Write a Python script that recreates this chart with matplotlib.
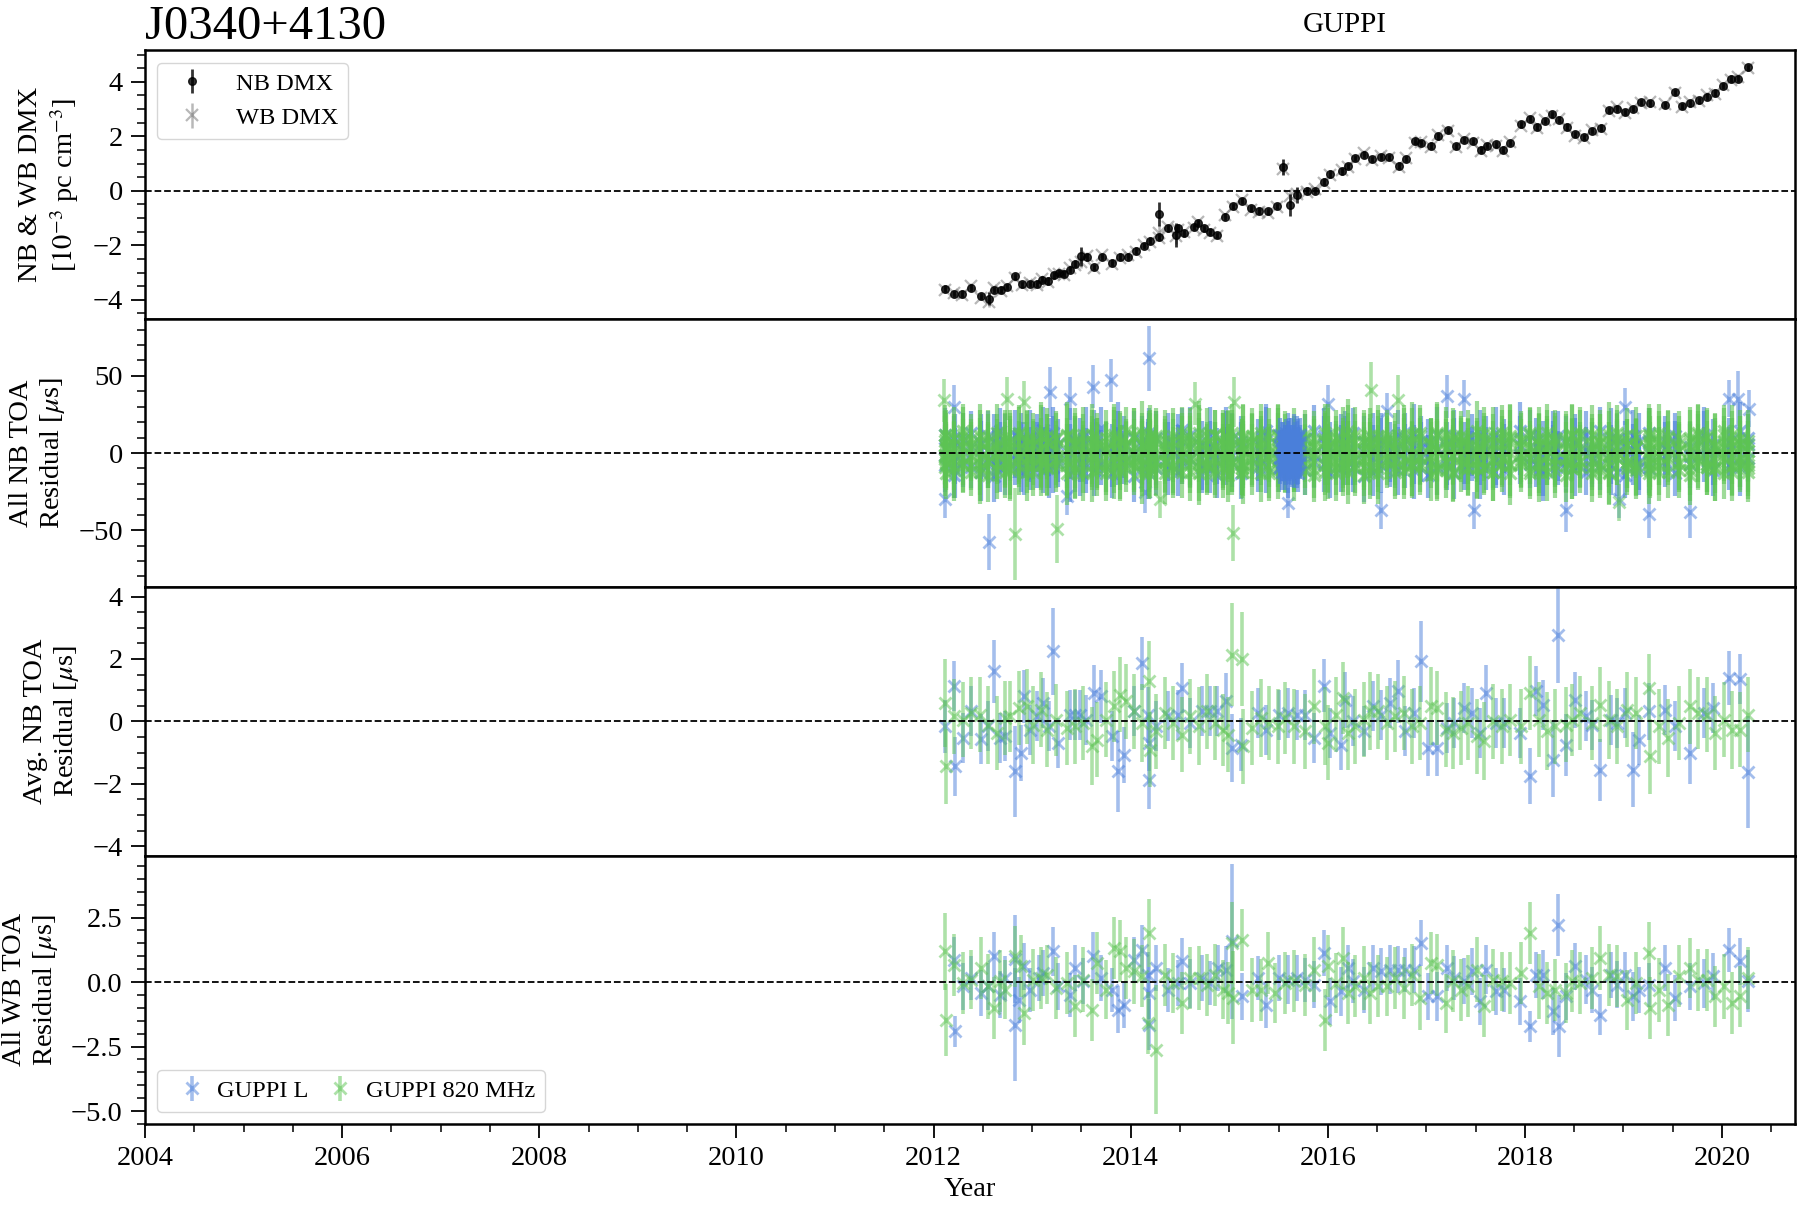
import matplotlib
matplotlib.use("Agg")
import matplotlib.pyplot as plt
from matplotlib.ticker import MultipleLocator
import numpy as np

plt.rcParams.update({
    "font.family": ["Liberation Serif", "DejaVu Serif"],
    "mathtext.fontset": "stix",
    "font.size": 20.5,
    "axes.linewidth": 1.8,
    "xtick.direction": "out",
    "ytick.direction": "out",
    "xtick.major.size": 10, "ytick.major.size": 10,
    "xtick.minor.size": 5.5, "ytick.minor.size": 5.5,
    "xtick.major.width": 1.3, "ytick.major.width": 1.3,
    "xtick.minor.width": 1.1, "ytick.minor.width": 1.1,
    "xtick.labelsize": 20.5, "ytick.labelsize": 20.5,
    "legend.fontsize": 17.6,
})

PSR = "J0340+4130"
BACKEND = "GUPPI"
L_LABEL = "GUPPI L"
G_LABEL = "GUPPI 820 MHz"
L_COLOR = "#4A7FDB"
G_COLOR = "#5DC453"

# ---------------- DMX (top panel) ----------------
dmx_year = [2012.12, 2012.21, 2012.29, 2012.38, 2012.48, 2012.56, 2012.61, 2012.68, 2012.75, 2012.83,
            2012.90, 2012.98, 2013.05, 2013.10, 2013.16, 2013.22, 2013.27, 2013.32, 2013.38, 2013.44,
            2013.50, 2013.56, 2013.63, 2013.71, 2013.81, 2013.89, 2013.97, 2014.05, 2014.14, 2014.20,
            2014.29, 2014.29, 2014.38, 2014.46, 2014.48, 2014.54, 2014.64, 2014.68, 2014.74, 2014.80,
            2014.88, 2014.96, 2015.04, 2015.13, 2015.22, 2015.30, 2015.39, 2015.48, 2015.55, 2015.62,
            2015.69, 2015.79, 2015.87, 2015.96, 2016.02, 2016.14, 2016.20, 2016.28, 2016.37, 2016.45,
            2016.54, 2016.62, 2016.72, 2016.79, 2016.88, 2016.95, 2017.05, 2017.12, 2017.22, 2017.30,
            2017.38, 2017.47, 2017.55, 2017.62, 2017.71, 2017.78, 2017.85, 2017.96, 2018.05, 2018.12,
            2018.20, 2018.27, 2018.35, 2018.43, 2018.51, 2018.60, 2018.68, 2018.77, 2018.85, 2018.93,
            2019.02, 2019.10, 2019.18, 2019.27, 2019.42, 2019.52, 2019.59, 2019.68, 2019.77, 2019.85,
            2019.93, 2020.01, 2020.09, 2020.16, 2020.26]
nb_dmx = [-3.59, -3.78, -3.78, -3.55, -3.87, -3.96, -3.63, -3.63, -3.53, -3.14,
          -3.43, -3.43, -3.41, -3.26, -3.31, -3.10, -3.00, -3.04, -2.89, -2.67,
          -2.40, -2.42, -2.79, -2.42, -2.64, -2.42, -2.42, -2.20, -2.03, -1.83,
          -1.69, -0.85, -1.38, -1.62, -1.38, -1.56, -1.32, -1.19, -1.38, -1.50,
          -1.62, -0.95, -0.55, -0.37, -0.64, -0.73, -0.76, -0.55, 0.87, -0.52,
          -0.15, 0.01, 0.00, 0.34, 0.63, 0.71, 0.92, 1.21, 1.33, 1.17,
          1.24, 1.24, 0.92, 1.17, 1.82, 1.76, 1.66, 2.00, 2.23, 1.64,
          1.86, 1.82, 1.51, 1.64, 1.70, 1.51, 1.76, 2.44, 2.64, 2.35,
          2.56, 2.80, 2.60, 2.35, 2.07, 1.98, 2.19, 2.31, 2.96, 3.01,
          2.89, 2.99, 3.26, 3.21, 3.14, 3.63, 3.11, 3.21, 3.33, 3.46,
          3.60, 3.85, 4.12, 4.12, 4.53]
nb_dmx_err = [0.12, 0.11, 0.12, 0.13, 0.12, 0.25, 0.11, 0.12, 0.12, 0.13,
              0.12, 0.11, 0.12, 0.12, 0.13, 0.12, 0.11, 0.12, 0.13, 0.12,
              0.35, 0.15, 0.12, 0.11, 0.12, 0.12, 0.13, 0.12, 0.11, 0.12,
              0.12, 0.45, 0.12, 0.45, 0.15, 0.12, 0.11, 0.12, 0.13, 0.12,
              0.12, 0.12, 0.11, 0.12, 0.13, 0.12, 0.12, 0.11, 0.30, 0.40,
              0.30, 0.12, 0.11, 0.12, 0.15, 0.12, 0.11, 0.12, 0.13, 0.12,
              0.12, 0.11, 0.13, 0.12, 0.12, 0.11, 0.12, 0.13, 0.12, 0.11,
              0.12, 0.12, 0.13, 0.11, 0.12, 0.12, 0.11, 0.13, 0.12, 0.12,
              0.11, 0.12, 0.13, 0.12, 0.11, 0.12, 0.12, 0.13, 0.11, 0.12,
              0.12, 0.11, 0.12, 0.13, 0.12, 0.12, 0.11, 0.12, 0.13, 0.12,
              0.12, 0.11, 0.12, 0.12, 0.13]
wb_dmx = [-3.64, -3.74, -3.83, -3.50, -3.92, -4.08, -3.58, -3.68, -3.49, -3.20,
          -3.47, -3.38, -3.45, -3.22, -3.35, -3.05, -3.04, -3.09, -2.84, -2.72,
          -2.62, -2.38, -2.84, -2.37, -2.69, -2.47, -2.37, -2.25, -1.99, -1.88,
          -1.74, -1.55, -1.33, -1.67, -1.43, -1.51, -1.37, -1.15, -1.43, -1.55,
          -1.67, -0.90, -0.60, -0.33, -0.69, -0.78, -0.80, -0.60, 0.80, -0.20,
          -0.10, -0.04, 0.05, 0.29, 0.58, 0.75, 0.87, 1.16, 1.38, 1.12,
          1.29, 1.19, 0.87, 1.22, 1.77, 1.80, 1.61, 2.05, 2.18, 1.59,
          1.91, 1.77, 1.46, 1.69, 1.65, 1.47, 1.80, 2.39, 2.68, 2.30,
          2.61, 2.75, 2.64, 2.30, 2.02, 1.93, 2.24, 2.26, 2.91, 3.06,
          2.84, 3.03, 3.21, 3.25, 3.19, 3.58, 3.06, 3.25, 3.28, 3.51,
          3.55, 3.89, 4.07, 4.17, 4.49]
wb_dmx_err = [0.10, 0.10, 0.11, 0.10, 0.10, 0.18, 0.10, 0.10, 0.11, 0.10,
              0.10, 0.10, 0.10, 0.11, 0.10, 0.10, 0.10, 0.10, 0.11, 0.10,
              0.20, 0.12, 0.10, 0.10, 0.10, 0.11, 0.10, 0.10, 0.10, 0.10,
              0.10, 0.30, 0.10, 0.30, 0.12, 0.10, 0.10, 0.11, 0.10, 0.10,
              0.10, 0.10, 0.10, 0.11, 0.10, 0.10, 0.10, 0.10, 0.20, 0.25,
              0.20, 0.10, 0.10, 0.10, 0.12, 0.10, 0.10, 0.11, 0.10, 0.10,
              0.10, 0.10, 0.10, 0.11, 0.10, 0.10, 0.10, 0.10, 0.11, 0.10,
              0.10, 0.10, 0.10, 0.10, 0.11, 0.10, 0.10, 0.10, 0.10, 0.10,
              0.11, 0.10, 0.10, 0.10, 0.10, 0.11, 0.10, 0.10, 0.10, 0.10,
              0.10, 0.11, 0.10, 0.10, 0.10, 0.10, 0.11, 0.10, 0.10, 0.10,
              0.10, 0.10, 0.11, 0.10, 0.10]

# ---------------- Epoch-averaged NB residuals (panel 3) ----------------
L_avg_year = [2012.12, 2012.21, 2012.22, 2012.30, 2012.38, 2012.48, 2012.55, 2012.61, 2012.67, 2012.72,
              2012.83, 2012.89, 2012.92, 2012.98, 2013.05, 2013.11, 2013.17, 2013.21, 2013.26, 2013.38,
              2013.44, 2013.49, 2013.55, 2013.63, 2013.70, 2013.81, 2013.87, 2013.93, 2014.03, 2014.12,
              2014.18, 2014.19, 2014.19, 2014.26, 2014.38, 2014.48, 2014.52, 2014.60, 2014.72, 2014.80,
              2014.88, 2014.97, 2015.03, 2015.12, 2015.29, 2015.37, 2015.51, 2015.60, 2015.69, 2015.77,
              2015.86, 2015.96, 2016.02, 2016.13, 2016.17, 2016.26, 2016.37, 2016.46, 2016.54, 2016.63,
              2016.71, 2016.78, 2016.87, 2016.95, 2017.02, 2017.11, 2017.21, 2017.28, 2017.38, 2017.46,
              2017.54, 2017.61, 2017.71, 2017.79, 2017.95, 2018.05, 2018.11, 2018.18, 2018.28, 2018.34,
              2018.42, 2018.51, 2018.62, 2018.68, 2018.76, 2018.87, 2018.93, 2019.02, 2019.10, 2019.16,
              2019.26, 2019.42, 2019.52, 2019.67, 2019.82, 2019.91, 2020.07, 2020.18, 2020.26]
L_avg_res = [-0.16, 1.12, -1.44, -0.53, 0.32, -0.56, -0.16, 1.60, -0.53, -0.48,
             -1.60, -1.01, 0.80, -0.27, 0.16, 0.59, -0.16, 2.24, -0.69, 0.21,
             0.21, 0.21, 0.05, 0.91, 0.80, -0.48, -1.60, -1.07, 0.32, 1.87,
             0.21, -0.69, -1.87, -0.16, 0.16, 0.21, 1.07, -0.05, 0.32, 0.32,
             0.32, 0.64, -0.85, -0.75, 0.27, -0.27, 0.21, 0.27, 0.21, 0.21,
             -0.53, 1.14, -0.37, -0.75, 0.69, 0.00, -0.32, 0.48, 0.21, 0.59,
             0.96, -0.32, 0.27, 1.92, -0.85, -0.85, -0.21, -0.05, 0.43, 0.27,
             -0.37, 0.91, -0.05, -0.05, -0.37, -1.76, 0.96, 0.53, -1.23, 2.77,
             -0.75, 0.69, 0.16, -0.11, -1.55, 0.05, -0.05, 0.27, -1.55, -0.59,
             0.32, 0.37, -0.16, -1.01, 0.27, 0.43, 1.39, 1.36, -1.63]
L_avg_err = [0.85, 0.80, 0.95, 0.80, 0.80, 0.80, 0.80, 1.00, 0.80, 0.80,
             1.45, 0.90, 0.85, 0.80, 0.80, 0.80, 0.80, 1.40, 0.80, 0.80,
             0.80, 0.80, 0.80, 0.90, 0.85, 0.80, 1.30, 0.90, 0.80, 0.85,
             0.90, 0.90, 0.95, 0.80, 0.80, 0.80, 0.80, 0.80, 0.80, 0.80,
             0.80, 0.90, 1.10, 0.85, 0.80, 0.80, 0.80, 0.80, 0.80, 0.80,
             0.80, 0.85, 0.80, 0.80, 0.90, 0.80, 0.80, 0.80, 0.80, 0.80,
             1.00, 0.80, 0.80, 1.30, 0.90, 0.90, 0.80, 0.80, 0.80, 0.80,
             0.80, 0.90, 0.80, 0.80, 0.80, 0.90, 0.80, 0.80, 1.20, 1.55,
             1.00, 0.90, 0.80, 0.80, 1.00, 0.80, 0.80, 0.80, 1.20, 0.80,
             0.90, 0.80, 0.80, 1.00, 0.80, 0.80, 0.85, 0.80, 1.80]

G_avg_year = [2012.12, 2012.13, 2012.21, 2012.30, 2012.38, 2012.47, 2012.55, 2012.64, 2012.72, 2012.78,
              2012.87, 2012.95, 2013.01, 2013.09, 2013.15, 2013.24, 2013.35, 2013.44, 2013.52, 2013.61,
              2013.66, 2013.75, 2013.83, 2013.89, 2013.95, 2014.03, 2014.12, 2014.19, 2014.20, 2014.26,
              2014.35, 2014.43, 2014.52, 2014.60, 2014.69, 2014.77, 2014.86, 2014.94, 2014.99, 2015.03,
              2015.13, 2015.14, 2015.23, 2015.32, 2015.40, 2015.49, 2015.57, 2015.66, 2015.77, 2015.86,
              2015.97, 2016.00, 2016.08, 2016.15, 2016.21, 2016.28, 2016.37, 2016.43, 2016.51, 2016.60,
              2016.68, 2016.77, 2016.85, 2016.94, 2017.05, 2017.11, 2017.20, 2017.27, 2017.35, 2017.42,
              2017.51, 2017.59, 2017.68, 2017.77, 2017.85, 2017.96, 2018.05, 2018.14, 2018.22, 2018.31,
              2018.42, 2018.48, 2018.56, 2018.68, 2018.76, 2018.85, 2018.93, 2019.04, 2019.13, 2019.26,
              2019.27, 2019.36, 2019.45, 2019.56, 2019.67, 2019.76, 2019.85, 2019.93, 2020.02, 2020.10,
              2020.18, 2020.26]
G_avg_res = [0.59, -1.44, 0.16, 0.05, 0.27, 0.21, -0.11, -0.37, 0.11, 0.16,
             0.43, 0.48, -0.11, 0.37, -0.27, 0.05, -0.21, -0.16, -0.05, -0.80,
             -0.59, 0.05, 0.48, 0.85, 0.64, 0.32, -0.05, 1.28, -0.91, -0.32,
             0.27, -0.05, -0.43, 0.16, -0.16, 0.32, -0.05, -0.27, -0.43, 2.13,
             2.00, -0.80, -0.21, 0.11, -0.05, -0.16, 0.11, -0.16, -0.32, 0.48,
             -0.16, -0.69, 0.21, 0.75, -0.37, -0.16, 0.05, 0.32, 0.32, -0.05,
             0.16, 0.27, -0.16, -0.05, 0.48, 0.43, -0.27, -0.37, -0.21, -0.05,
             -0.48, -0.64, 0.00, -0.16, 0.05, -0.16, 0.91, 0.05, -0.32, -0.16,
             -0.11, 0.05, 0.27, -0.05, 0.53, 0.05, -0.16, 0.37, 0.27, 1.07,
             -1.12, -0.16, -0.53, -0.05, 0.48, 0.27, 0.21, -0.37, 0.05, -0.27,
             -0.27, 0.21]
G_avg_err = [1.40, 1.20, 1.20, 1.20, 1.15, 1.20, 1.25, 1.20, 1.20, 1.15,
             1.20, 1.20, 1.25, 1.20, 1.20, 1.15, 1.20, 1.20, 1.20, 1.25,
             1.20, 1.20, 1.15, 1.20, 1.20, 1.20, 1.25, 1.30, 1.20, 1.20,
             1.15, 1.20, 1.20, 1.20, 1.25, 1.20, 1.20, 1.15, 1.20, 1.65,
             1.50, 1.20, 1.20, 1.25, 1.20, 1.20, 1.15, 1.20, 1.20, 1.20,
             1.25, 1.20, 1.20, 1.15, 1.20, 1.20, 1.20, 1.25, 1.20, 1.20,
             1.15, 1.20, 1.20, 1.20, 1.25, 1.20, 1.20, 1.15, 1.20, 1.20,
             1.20, 1.25, 1.20, 1.20, 1.15, 1.20, 1.20, 1.20, 1.25, 1.20,
             1.20, 1.15, 1.20, 1.20, 1.20, 1.25, 1.20, 1.20, 1.15, 1.10,
             1.20, 1.20, 1.25, 1.20, 1.20, 1.15, 1.20, 1.20, 1.20, 1.25,
             1.20, 1.20]

# ---------------- Wideband residuals (panel 4) ----------------
L_wb_year = [2012.21, 2012.22, 2012.30, 2012.38, 2012.48, 2012.55, 2012.61, 2012.67, 2012.72, 2012.83,
             2012.83, 2012.87, 2012.92, 2012.98, 2013.07, 2013.11, 2013.21, 2013.26, 2013.38, 2013.44,
             2013.52, 2013.62, 2013.70, 2013.81, 2013.87, 2013.93, 2014.03, 2014.12, 2014.18, 2014.19,
             2014.19, 2014.26, 2014.38, 2014.48, 2014.52, 2014.60, 2014.72, 2014.80, 2014.89, 2014.97,
             2015.03, 2015.13, 2015.29, 2015.37, 2015.51, 2015.60, 2015.69, 2015.77, 2015.86, 2015.96,
             2016.02, 2016.13, 2016.20, 2016.26, 2016.37, 2016.46, 2016.54, 2016.63, 2016.71, 2016.78,
             2016.87, 2016.95, 2017.02, 2017.11, 2017.21, 2017.28, 2017.38, 2017.46, 2017.54, 2017.61,
             2017.71, 2017.79, 2017.95, 2018.05, 2018.11, 2018.18, 2018.28, 2018.34, 2018.35, 2018.42,
             2018.51, 2018.62, 2018.68, 2018.76, 2018.87, 2018.93, 2019.02, 2019.10, 2019.16, 2019.26,
             2019.42, 2019.52, 2019.67, 2019.82, 2019.91, 2020.07, 2020.18, 2020.26]
L_wb_res = [0.86, -1.91, -0.17, 0.15, -0.43, -0.17, 0.99, -0.49, 0.15, -1.65,
            0.90, -0.69, 0.61, -0.30, 0.15, 0.35, 1.19, -0.17, -0.49, 0.54,
            0.03, 0.99, 0.15, -0.30, -1.07, -0.88, 0.86, 1.25, 0.28, -0.43,
            -1.65, 0.54, -0.30, -0.04, 0.80, -0.04, 0.15, -0.04, 0.54, 0.48,
            1.58, -0.56, 0.15, -0.88, 0.15, 0.09, 0.15, 0.09, -0.10, 1.12,
            -0.75, -0.36, 0.54, 0.03, -0.30, 0.54, 0.41, 0.48, 0.48, 0.48,
            0.48, 1.51, -0.56, -0.56, 0.54, 0.15, 0.03, 0.41, -0.75, 0.48,
            -0.36, -0.30, -0.75, -1.72, 0.28, 0.28, -1.14, 2.22, -1.72, -0.56,
            0.61, 0.09, -0.30, -1.27, 0.28, -0.10, 0.28, -0.56, -0.30, -0.10,
            0.54, -0.62, -0.17, -0.04, 0.22, 1.25, 0.80, 0.03]
L_wb_err = [0.90, 0.60, 0.90, 0.85, 0.90, 0.90, 0.95, 0.90, 0.85, 2.20,
            1.70, 0.90, 0.90, 0.85, 0.90, 0.90, 0.95, 0.90, 0.85, 0.90,
            0.90, 0.95, 0.90, 0.85, 0.90, 0.90, 0.90, 0.95, 0.90, 1.00,
            1.00, 0.90, 0.85, 0.90, 0.90, 0.95, 0.90, 0.85, 0.90, 0.90,
            3.00, 0.90, 0.85, 0.90, 0.90, 0.95, 0.90, 0.85, 0.90, 0.90,
            0.90, 0.95, 0.90, 0.85, 0.90, 0.90, 0.90, 0.95, 0.90, 0.85,
            0.90, 0.90, 0.90, 0.95, 0.90, 0.85, 0.90, 0.90, 0.90, 0.95,
            0.90, 0.85, 0.90, 0.60, 0.90, 0.95, 0.90, 1.20, 1.20, 0.90,
            0.90, 0.95, 0.90, 0.80, 0.90, 0.90, 0.90, 0.95, 0.90, 0.85,
            0.90, 0.90, 0.90, 0.95, 0.90, 0.85, 0.90, 1.20]

G_wb_year = [2012.12, 2012.13, 2012.21, 2012.30, 2012.38, 2012.48, 2012.55, 2012.61, 2012.67, 2012.72,
             2012.83, 2012.89, 2012.92, 2013.01, 2013.09, 2013.15, 2013.24, 2013.35, 2013.44, 2013.52,
             2013.61, 2013.66, 2013.75, 2013.83, 2013.89, 2013.95, 2014.03, 2014.12, 2014.18, 2014.19,
             2014.26, 2014.35, 2014.43, 2014.52, 2014.60, 2014.69, 2014.77, 2014.86, 2014.94, 2014.99,
             2015.03, 2015.04, 2015.13, 2015.23, 2015.32, 2015.39, 2015.46, 2015.57, 2015.66, 2015.77,
             2015.86, 2015.97, 2016.00, 2016.08, 2016.15, 2016.21, 2016.28, 2016.37, 2016.43, 2016.51,
             2016.60, 2016.68, 2016.77, 2016.85, 2016.94, 2017.05, 2017.11, 2017.20, 2017.27, 2017.35,
             2017.42, 2017.51, 2017.59, 2017.68, 2017.77, 2017.85, 2017.96, 2018.05, 2018.14, 2018.22,
             2018.31, 2018.42, 2018.48, 2018.56, 2018.68, 2018.76, 2018.85, 2018.93, 2019.04, 2019.13,
             2019.26, 2019.27, 2019.36, 2019.45, 2019.56, 2019.67, 2019.76, 2019.85, 2019.93, 2020.02,
             2020.10, 2020.18, 2020.26]
G_wb_res = [1.19, -1.46, 0.67, -0.04, 0.09, 0.54, -0.17, -1.01, 0.03, -0.30,
            0.99, 0.61, -1.20, 0.09, 0.15, 0.28, -0.23, -0.04, -0.94, 0.09,
            -1.07, 0.72, -0.30, 1.32, 1.19, 0.54, 0.41, 0.22, -1.59, 1.90,
            -2.62, 0.28, -0.04, -0.82, 0.15, 0.15, -0.10, 0.28, -0.30, -0.43,
            1.51, -0.60, 1.64, -0.30, -0.30, 0.72, -0.43, -0.04, 0.03, -0.10,
            0.48, -1.46, 0.61, -0.04, 0.93, -0.43, -0.17, 0.15, -0.43, -0.17,
            -0.17, 0.15, -0.23, 0.28, -0.62, 0.72, 0.67, -0.82, 0.03, -0.30,
            -0.17, 0.48, -0.94, 0.09, 0.03, -0.04, 0.35, 1.90, -0.17, -0.43,
            -0.30, -0.43, 0.03, -0.04, 0.15, 0.93, 0.28, 0.22, -0.69, -0.04,
            1.12, -1.01, -0.30, -0.88, 0.22, 0.54, 0.09, 0.09, -0.56, -0.17,
            -0.82, -0.56, 0.15]
G_wb_err = [1.50, 1.40, 1.20, 1.20, 1.15, 1.20, 1.25, 1.20, 1.20, 1.15,
            1.20, 1.20, 1.25, 1.20, 1.20, 1.15, 1.20, 1.20, 1.20, 1.25,
            1.20, 1.20, 1.15, 1.20, 1.20, 1.20, 1.25, 1.20, 1.20, 1.30,
            2.50, 1.20, 1.15, 1.20, 1.20, 1.25, 1.20, 1.20, 1.15, 1.20,
            1.60, 1.80, 1.20, 1.25, 1.20, 1.20, 1.15, 1.20, 1.20, 1.20,
            1.25, 1.20, 1.20, 1.15, 1.20, 1.20, 1.20, 1.25, 1.20, 1.20,
            1.15, 1.20, 1.20, 1.20, 1.25, 1.20, 1.20, 1.15, 1.20, 1.20,
            1.20, 1.25, 1.20, 1.20, 1.15, 1.20, 1.20, 1.20, 1.25, 1.20,
            1.20, 1.15, 1.20, 1.20, 1.20, 1.25, 1.20, 1.20, 1.15, 1.20,
            1.20, 1.20, 1.25, 1.20, 1.20, 1.15, 1.20, 1.20, 1.20, 1.25,
            1.20, 1.20, 1.20]

# ---------------- All narrowband TOA residuals (panel 2), per epoch ----------------
L_nb_res = [
    [3, -8, 12], [-5, 9, -14], [7, -2, -11], [10, -6, 1], [-9, 4, 13], [2, -12, 6], [-4, 11, -7], [8, -1, -15], [5, -10, 14], [-3, 7, -9],
    [12, -5, 0], [-8, 3, 9], [6, -13, -2], [-1, 10, -6], [9, -7, 4], [-11, 2, 15], [4, -4, -10], [13, -9, 7], [-6, 6, -3], [1, -14, 11],
    [-10, 8, 3], [7, -3, -12], [-2, 12, -8], [11, -11, 5], [-7, 1, 16], [3, -6, -13], [14, -2, 8], [-5, 9, -1], [0, -15, 10], [8, 5, -7],
    [-12, 4, 2], [6, -9, 13], [-3, 11, -5], [10, -4, -10], [-8, 7, 1], [2, -12, 9], [15, -6, -3], [-4, 3, 12], [5, -10, -8], [-9, 13, 4],
    [1, -5, -14], [11, 8, -2], [-6, -1, 10], [7, -13, 3], [-2, 6, -9], [12, -8, 14], [-10, 2, -4], [4, 9, -12], [-7, -3, 7], [9, -11, 0],
    [-1, 14, -6], [6, -7, 11], [-13, 4, -1], [3, 10, -10], [8, -2, 5], [-5, -9, 13], [0, 7, -15], [10, -12, 2], [-8, 5, 8], [5, -4, -7],
    [-11, 12, 1], [2, -6, 9], [13, -1, -11], [-3, 8, 4], [7, -14, -3], [-9, 3, 12], [4, -8, -5], [11, 6, -13], [-6, -10, 6], [1, 9, -2],
    [-12, -3, 10], [9, 2, -9], [-4, 13, -6], [6, -11, 3], [-1, 5, 14], [12, -7, -4], [-7, 0, 8], [3, -13, -10], [10, 4, 1], [-5, -2, 11],
    [8, -9, -6], [-10, 7, 5], [2, 12, -12], [-3, -5, 3], [14, 1, -8], [-8, 10, -1], [5, -12, 9], [-2, 6, -14], [11, -4, 2], [-6, 8, -9],
    [0, -10, 13], [7, 3, -5], [-13, 11, 6], [4, -7, -2], [9, -1, 12], [-4, 5, -11], [1, -8, 7], [-9, 14, -3], [6, -3, 10], [12, -15, 0],
]
L_nb_err = [17, 15, 18, 16, 14, 19, 16, 17, 15, 18, 16, 17, 14, 18, 16, 15, 19, 17, 16, 18,
            15, 16, 18, 17, 14, 16, 19, 15, 17, 16, 18, 16, 15, 17, 19, 16, 14, 18, 16, 17,
            15, 19, 16, 17, 16, 18, 15, 17, 14, 16, 17, 18, 16, 15, 19, 16, 17, 16, 18, 15,
            16, 17, 19, 16, 15, 18, 16, 17, 14, 16, 18, 15, 17, 16, 19, 16, 15, 18, 17, 16,
            16, 18, 15, 17, 16, 19, 16, 15, 17, 18, 16, 17, 15, 16, 18, 17, 16, 19, 15, 17]
G_nb_res = [
    [5, -9, 12, -2], [-7, 3, -13, 9], [10, -4, 1, -11], [-3, 8, -8, 14], [6, -12, 4, -1], [-10, 2, 11, -6], [1, -5, -14, 7], [13, -1, -7, 3], [-6, 9, 0, -12], [4, -11, 8, 2],
    [-2, 12, -4, -9], [9, -7, 6, -3], [-12, 5, -1, 10], [3, -3, 13, -8], [7, -10, -5, 11], [-8, 1, 9, -4], [11, -6, 2, -13], [-4, 10, -10, 5], [0, -8, 7, 12], [8, 4, -12, -2],
    [-11, 6, 3, -7], [2, -13, 10, 1], [12, -2, -6, 8], [-5, 7, -11, -1], [6, -9, 14, -5], [-9, 11, -3, 4], [1, -4, 5, -12], [10, -11, -8, 6], [-3, 3, 12, -10], [7, -6, 0, 9],
    [-13, 8, -5, 2], [4, -1, 11, -9], [9, -12, -2, 13], [-7, 5, 7, -4], [2, -10, -13, 10], [11, 1, -7, -3], [-5, 12, 4, -11], [6, -3, -9, 8], [-1, 9, 1, -14], [13, -8, 6, -6],
    [-10, 2, -12, 5], [3, -7, 10, -2], [8, 11, -4, -9], [-6, -2, 13, 3], [1, -13, -1, 11], [12, 6, -10, -5], [-8, -4, 8, 1], [5, 10, -6, -12], [-3, -11, 3, 9], [9, 0, -14, 4],
    [-12, 7, 2, -8], [4, -5, 12, -1], [10, -9, -3, 6], [-4, 13, -11, -6], [0, -6, 5, 14], [7, 3, -8, -10], [-9, 9, 1, -3], [2, -12, 11, 7], [11, -2, -5, -13], [-6, 6, 9, 0],
    [3, -10, -12, 8], [-11, 4, 6, -4], [8, -7, -1, 12], [-2, 11, -9, -7], [6, -14, 3, 5], [-7, 1, 13, -11], [12, -5, -6, 2], [-1, 8, -13, 10], [5, -3, 7, -9], [-10, 10, -2, 4],
    [1, -9, 14, -5], [9, 5, -10, -1], [-5, -12, 2, 11], [13, -4, -7, 6], [-8, 7, 10, -13], [4, -1, -4, 9], [-3, 12, -11, 1], [10, -8, 5, -6], [-12, 3, -2, 13], [6, -11, 8, -3],
    [-4, 9, -14, 7], [2, -6, 11, -10], [11, 1, -5, 3], [-9, -13, 4, 12], [7, 10, -9, -2], [-1, -5, 6, -12], [8, 13, -3, 0], [-6, -10, 12, 5], [3, 4, -8, -11], [12, -7, 1, 9],
    [-11, 11, -6, -4], [5, -2, 13, -8], [-2, -12, 3, 10], [9, 6, -11, 2], [-7, -1, 8, -14], [0, 12, -4, 6], [10, -9, -7, 11], [-5, 5, 2, -10], [4, -13, 14, -1], [-8, 8, -9, 4],
    [6, -4, 10, -6], [-10, 1, -12, 8],
]
# second group of sub-band TOAs per 820 MHz epoch
G_nb_res2 = [
    [8, -4, -1], [2, -6, 11], [-9, 0, 5], [4, 12, -7], [-2, -8, 9], [7, -3, -12], [-5, 10, 2], [0, -11, 6], [11, 3, -5], [-7, 6, -10],
    [3, -1, 13], [-12, 8, 1], [6, -5, -8], [-4, 11, -2], [1, -9, 7], [10, 4, -6], [-8, -2, 12], [5, 7, -11], [-1, -13, 3], [12, 0, -4],
    [-6, 9, 6], [3, -7, -9], [-10, 2, 10], [8, -12, -1], [-3, 5, 4], [11, -6, -7], [-7, 13, 0], [2, -2, -13], [9, 7, 2], [-5, -10, 11],
    [0, 4, -6], [-11, -8, 8], [7, 1, -3], [-2, 10, -12], [13, -5, 5], [-8, 2, -9], [4, -13, 12], [-1, 6, -4], [10, -9, 1], [-6, 3, 9],
    [5, -7, -10], [-12, 11, 0], [1, -3, 7], [8, 5, -13], [-4, -11, 4], [11, 9, -2], [-9, -1, 10], [3, -6, -5], [-7, 12, 2], [6, -4, -11],
    [-2, 8, 13], [9, -10, -6], [-13, 1, 3], [4, 6, -8], [0, -12, 10], [12, -3, -1], [-5, 7, -14], [2, -9, 5], [-10, 4, 8], [7, 11, -4],
    [-3, -5, 1], [10, -8, 12], [-8, 0, -7], [5, 13, -3], [-1, -6, 6], [12, 2, -10], [-11, 9, 4], [3, -12, -2], [8, -1, 11], [-6, 5, -9],
    [1, -10, 3], [-9, 13, 7], [6, -4, -12], [-3, 2, 10], [11, -7, 0], [-7, 8, -5], [4, -13, 13], [-12, 6, -1], [9, -2, 5], [-4, 10, -8],
    [2, -8, -3], [-10, 3, 12], [13, -6, -9], [-5, 1, 6], [7, -11, 2], [-1, 12, -13], [10, -3, 4], [-8, 5, -6], [3, -9, 11], [-13, 7, -2],
    [6, 2, -10], [-2, -12, 8], [11, 4, -4], [-6, -7, 1], [1, 10, -11], [8, -5, 13], [-9, 3, -7], [4, -10, 0], [-3, 12, 7], [12, -1, -12],
    [-7, 6, 3], [5, -8, -5],
]
G_nb_err = [19, 17, 20, 18, 16, 21, 18, 19, 17, 20, 18, 19, 16, 20, 18, 17, 21, 19, 18, 20,
            17, 18, 20, 19, 16, 18, 21, 17, 19, 18, 20, 18, 17, 19, 21, 18, 16, 20, 18, 19,
            17, 21, 18, 19, 18, 20, 17, 19, 16, 18, 19, 20, 18, 17, 21, 18, 19, 18, 20, 17,
            18, 19, 21, 18, 17, 20, 18, 19, 16, 18, 20, 17, 19, 18, 21, 18, 17, 20, 19, 18,
            18, 20, 17, 19, 18, 21, 18, 17, 19, 20, 18, 19, 17, 18, 20, 19, 18, 21, 17, 19,
            18, 20]

# dense L-band stretch in mid 2015
L_dense_year = [2015.52, 2015.535, 2015.55, 2015.565, 2015.58, 2015.595, 2015.61,
                2015.625, 2015.64, 2015.655, 2015.67, 2015.685, 2015.70, 2015.715]
L_dense_res = [[4, -9, 12, -3], [-6, 8, -12, 2], [10, -2, -8, 6], [-11, 5, 1, -5], [7, -10, 11, -1],
               [-3, 3, -14, 9], [12, -7, 0, -9], [-8, 10, -4, 5], [2, -12, 8, -6], [-5, 6, 13, -11],
               [9, -4, -9, 3], [-10, 11, 2, -2], [5, -8, -13, 10], [-1, 7, -6, 12]]
L_dense_err = [11, 12, 10, 13, 11, 12, 11, 13, 10, 12, 11, 13, 12, 11]

# individual outlying NB TOAs
L_out_year = [2014.19, 2013.80, 2013.62, 2012.56, 2017.21, 2017.38, 2020.07, 2020.16, 2020.27, 2019.26,
              2019.67, 2018.42, 2016.54, 2017.48, 2015.60, 2012.21, 2013.18, 2013.38, 2016.00, 2019.02,
              2012.12, 2013.35, 2014.15, 2018.95, 2016.60]
L_out_res = [61.3, 47.2, 42.9, -57.8, 36.8, 35.3, 35.3, 35.3, 28.8, -39.4,
             -38.3, -37.2, -37.2, -37.2, -32.4, 29.9, 39.6, 35.3, 32.1, 29.9,
             -30.0, -28.0, -25.0, -30.0, 27.0]
L_out_err = [21, 14, 14, 18, 14, 12, 12, 18, 12, 16,
             17, 14, 12, 12, 10, 14, 16, 14, 12, 12,
             12, 12, 14, 12, 12]
G_out_year = [2012.83, 2013.25, 2015.04, 2012.75, 2016.44, 2016.71, 2012.11, 2014.65, 2018.95, 2015.05,
              2012.92, 2014.30]
G_out_res = [-52.4, -49.1, -52.0, 35.3, 40.7, 34.7, 34.2, 32.1, -31.8, 33.0,
             33.0, -30.0]
G_out_err = [30, 22, 18, 14, 18, 16, 14, 14, 12, 16,
             14, 12]

# ---------------- figure ----------------
fig, axes = plt.subplots(4, 1, figsize=(18, 12.1), dpi=100, sharex=True)
fig.subplots_adjust(left=0.0806, right=0.9972, top=0.9583, bottom=0.0711, hspace=0)
ax1, ax2, ax3, ax4 = axes

eb_kw = dict(fmt="x", ms=8, mew=2, elinewidth=2.6, capsize=0, alpha=0.5)
eb_kw2 = dict(fmt="x", ms=9, mew=2.2, elinewidth=3.0, capsize=0, alpha=0.6)

# panel 1
ax1.errorbar(dmx_year, wb_dmx, yerr=wb_dmx_err, fmt="x", color="0.45", ms=8, mew=1.6,
             elinewidth=1.8, capsize=0, alpha=0.5, label="WB DMX", zorder=2)
ax1.errorbar(dmx_year, nb_dmx, yerr=nb_dmx_err, fmt="o", color="k", ms=5.5,
             elinewidth=2.0, capsize=0, alpha=0.8, label="NB DMX", zorder=3)
h, l = ax1.get_legend_handles_labels()
ax1.legend([h[1], h[0]], [l[1], l[0]], loc="upper left")
ax1.set_ylim(-4.7, 5.15)
ax1.yaxis.set_major_locator(MultipleLocator(2))
ax1.yaxis.set_minor_locator(MultipleLocator(0.5))
ax1.set_ylabel("NB & WB DMX\n[$10^{-3}$ pc cm$^{-3}$]", labelpad=8)

# panel 2
def expand(years, groups, errs):
    xs, ys, es = [], [], []
    for yr, grp, er in zip(years, groups, errs):
        for v in grp:
            xs.append(yr)
            ys.append(v)
            es.append(er)
    return xs, ys, es

lx, ly, le = expand(L_avg_year, L_nb_res, L_nb_err)
gx, gy, ge = expand(G_avg_year, G_nb_res, G_nb_err)
gx2, gy2, ge2 = expand(G_avg_year, G_nb_res2, G_nb_err)
dx, dy, de = expand(L_dense_year, L_dense_res, L_dense_err)
ax2.errorbar(L_out_year, L_out_res, yerr=L_out_err, color=L_COLOR, zorder=2, **eb_kw)
ax2.errorbar(lx, ly, yerr=le, color=L_COLOR, zorder=2, **eb_kw2)
ax2.errorbar(G_out_year, G_out_res, yerr=G_out_err, color=G_COLOR, zorder=3, **eb_kw)
ax2.errorbar(gx, gy, yerr=ge, color=G_COLOR, zorder=3, **eb_kw2)
ax2.errorbar(gx2, gy2, yerr=ge2, color=G_COLOR, zorder=3, **eb_kw2)
ax2.errorbar(dx, dy, yerr=de, color=L_COLOR, zorder=4, **eb_kw2)
ax2.set_ylim(-87, 87)
ax2.yaxis.set_major_locator(MultipleLocator(50))
ax2.yaxis.set_minor_locator(MultipleLocator(10))
ax2.set_ylabel("All NB TOA\nResidual [$\\mu$s]", labelpad=8)

# panel 3
ax3.errorbar(L_avg_year, L_avg_res, yerr=L_avg_err, color=L_COLOR, zorder=2, **eb_kw)
ax3.errorbar(G_avg_year, G_avg_res, yerr=G_avg_err, color=G_COLOR, zorder=3, **eb_kw)
ax3.set_ylim(-4.3, 4.3)
ax3.yaxis.set_major_locator(MultipleLocator(2))
ax3.yaxis.set_minor_locator(MultipleLocator(0.5))
ax3.set_ylabel("Avg. NB TOA\nResidual [$\\mu$s]", labelpad=8)

# panel 4
eL = ax4.errorbar(L_wb_year, L_wb_res, yerr=L_wb_err, color=L_COLOR, zorder=2, label=L_LABEL, **eb_kw)
eG = ax4.errorbar(G_wb_year, G_wb_res, yerr=G_wb_err, color=G_COLOR, zorder=3, label=G_LABEL, **eb_kw)
ax4.legend(handles=[eL, eG], loc="lower left", ncol=2, handlelength=2.0,
           handletextpad=0.05, columnspacing=0.3)
ax4.set_ylim(-5.5, 4.9)
ax4.yaxis.set_major_locator(MultipleLocator(2.5))
ax4.yaxis.set_minor_locator(MultipleLocator(0.5))
ax4.set_ylabel("All WB TOA\nResidual [$\\mu$s]", labelpad=8)

for ax in axes:
    ax.axhline(0, color="k", ls="--", lw=1.3, zorder=5)
    ax.tick_params(axis="y", which="both", right=False, left=True, pad=6)
    ax.tick_params(axis="x", which="both", top=False)
for ax in axes[:3]:
    ax.tick_params(axis="x", which="both", bottom=False, labelbottom=False)

ax4.set_xlim(2004.0, 2020.74)
ax4.xaxis.set_major_locator(MultipleLocator(2))
ax4.xaxis.set_minor_locator(MultipleLocator(0.5))
ax4.tick_params(axis="x", pad=6)
ax4.set_xlabel("Year", labelpad=4)

ax1.set_title(PSR, loc="left", fontsize=35, pad=8)
ax1.text(0.727, 1.067, BACKEND, transform=ax1.transAxes, ha="center", va="baseline", fontsize=21)

fig.savefig("out.png", dpi=100)
